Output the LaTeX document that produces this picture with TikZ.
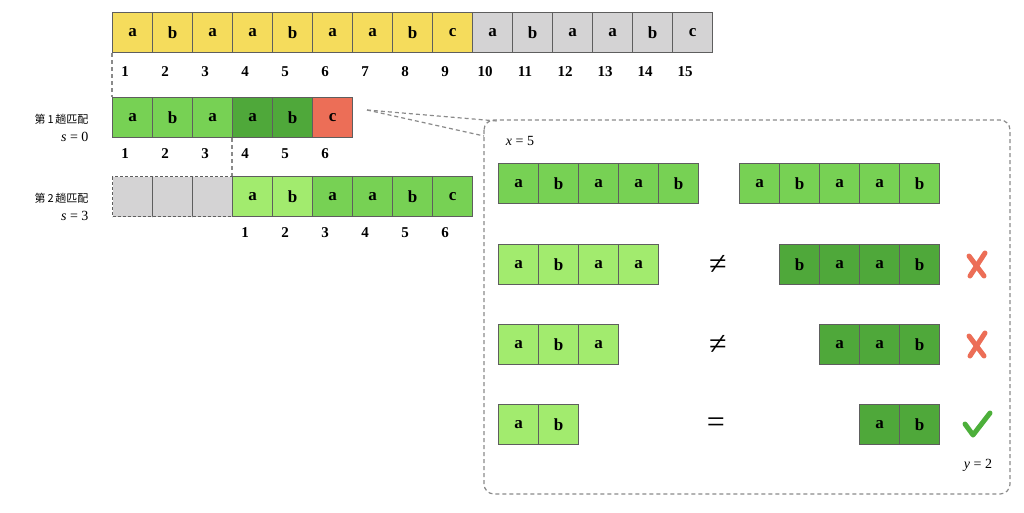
\documentclass[tikz,border=0pt]{standalone}
\usepackage{fontspec}
\setmainfont{Liberation Serif}
\newfontfamily\cjk{Noto Sans CJK SC}
\usetikzlibrary{positioning,calc}
\definecolor{cy}{HTML}{F5DC5C}
\definecolor{cg}{HTML}{D4D3D4}
\definecolor{gm}{HTML}{77D154}
\definecolor{gd}{HTML}{4FA83A}
\definecolor{gl}{HTML}{A2EB6E}
\definecolor{cr}{HTML}{EC6E57}
\definecolor{ck}{HTML}{4CAF3A}
\definecolor{bd}{HTML}{5E5E5E}
\definecolor{dl}{HTML}{8A8A8A}
\tikzset{
  cell/.style={draw=bd,line width=1.3pt,minimum width=40pt,minimum height=40pt,inner sep=0pt,anchor=north west,font=\bfseries\fontsize{17}{17}\selectfont},
  ghost/.style={cell,dash pattern=on 3pt off 2pt},
  num/.style={font=\bfseries\fontsize{15}{15}\selectfont},
  dsh/.style={draw=dl,line width=1.2pt,dash pattern=on 4pt off 3pt},
  lbl/.style={font=\fontsize{14}{17}\selectfont,align=right,anchor=east},
  rel/.style={font=\fontsize{32}{32}\selectfont},
  sml/.style={font=\fontsize{14}{14}\selectfont},
}
% \mkrow{name}{x}{y}{letter/color,...}
\newcommand\mkrow[4]{%
  \foreach \lt/\cl [count=\i from 0] in {#4}{%
    \node[cell,fill=\cl] (#1\i) at ({#2+40*\i},{-(#3)}) {\textbf{\lt}};}}
\begin{document}
\begin{tikzpicture}[x=1pt,y=1pt]
\useasboundingbox (0,0) rectangle (1024,-512);
% top string
\mkrow{t}{112}{12}{a/cy,b/cy,a/cy,a/cy,b/cy,a/cy,a/cy,b/cy,c/cy,a/cg,b/cg,a/cg,a/cg,b/cg,c/cg}
\foreach \i in {1,...,15}{\node[num] (tn\i) at ({92+40*\i-7},-72) {\i};}
% pass 1
\mkrow{p}{112}{97}{a/gm,b/gm,a/gm,a/gd,b/gd,c/cr}
\foreach \i in {1,...,6}{\node[num] (pn\i) at ({92+40*\i-7},-154) {\i};}
\node[lbl] (l1) at (92,-128) {{\cjk\fontsize{11}{13}\selectfont 第\,1\,趟匹配}\\[1pt] \textit{s} = 0};
% pass 2
\node[ghost,fill=cg] (g0) at (112,-176) {};
\node[ghost,fill=cg] (g1) at (152,-176) {};
\node[ghost,fill=cg] (g2) at (192,-176) {};
\mkrow{q}{232}{176}{a/gl,b/gl,a/gm,a/gm,b/gm,c/gm}
\foreach \i in {1,...,6}{\node[num] (qn\i) at ({212+40*\i-7},-233) {\i};}
\node[lbl] (l2) at (92,-207) {{\cjk\fontsize{11}{13}\selectfont 第\,2\,趟匹配}\\[1pt] \textit{s} = 3};
% dashed guides
\draw[dsh] (t0.south west) -- (p0.north west);
\draw[dsh] (p3.south west) -- (q0.north west);
% callout box
\coordinate (cA) at (367,-110);
\draw[dsh,rounded corners=10pt] (484,-120) rectangle (1010,-494);
\draw[dsh] (cA) -- (497,-121);
\draw[dsh] (cA) -- (484,-136);
\node[sml] (xl) at (520,-141) {\textit{x} = 5};
\mkrow{a}{498}{163}{a/gm,b/gm,a/gm,a/gm,b/gm}
\mkrow{A}{739}{163}{a/gm,b/gm,a/gm,a/gm,b/gm}
\mkrow{b}{498}{244}{a/gl,b/gl,a/gl,a/gl}
\mkrow{B}{779}{244}{b/gd,a/gd,a/gd,b/gd}
\mkrow{c}{498}{324}{a/gl,b/gl,a/gl}
\mkrow{C}{819}{324}{a/gd,a/gd,b/gd}
\mkrow{d}{498}{404}{a/gl,b/gl}
\mkrow{D}{859}{404}{a/gd,b/gd}
\node[rel] (r1) at (718,-265) {≠};
\node[rel] (r2) at (718,-345) {≠};
\node[rel] (r3) at (716,-425) {=};
% marks
\foreach \y/\n in {265/x1,345/x2}{
  \coordinate (\n) at (977,-\y);
  \draw[cr,line width=5pt,line cap=round] ($(\n)+(-7,-11)$) -- ($(\n)+(8,12)$);
  \draw[cr,line width=5pt,line cap=round] ($(\n)+(-8,9)$) -- ($(\n)+(7,-11)$);
}
\coordinate (cm) at (977,-425);
\draw[ck,line width=5pt,line cap=round,line join=round] ($(cm)+(-12,1)$) -- ($(cm)+(-4,-10)$) -- ($(cm)+(13,12)$);
\node[sml] (yl) at (978,-465) {\textit{y} = 2};
\end{tikzpicture}
\end{document}
